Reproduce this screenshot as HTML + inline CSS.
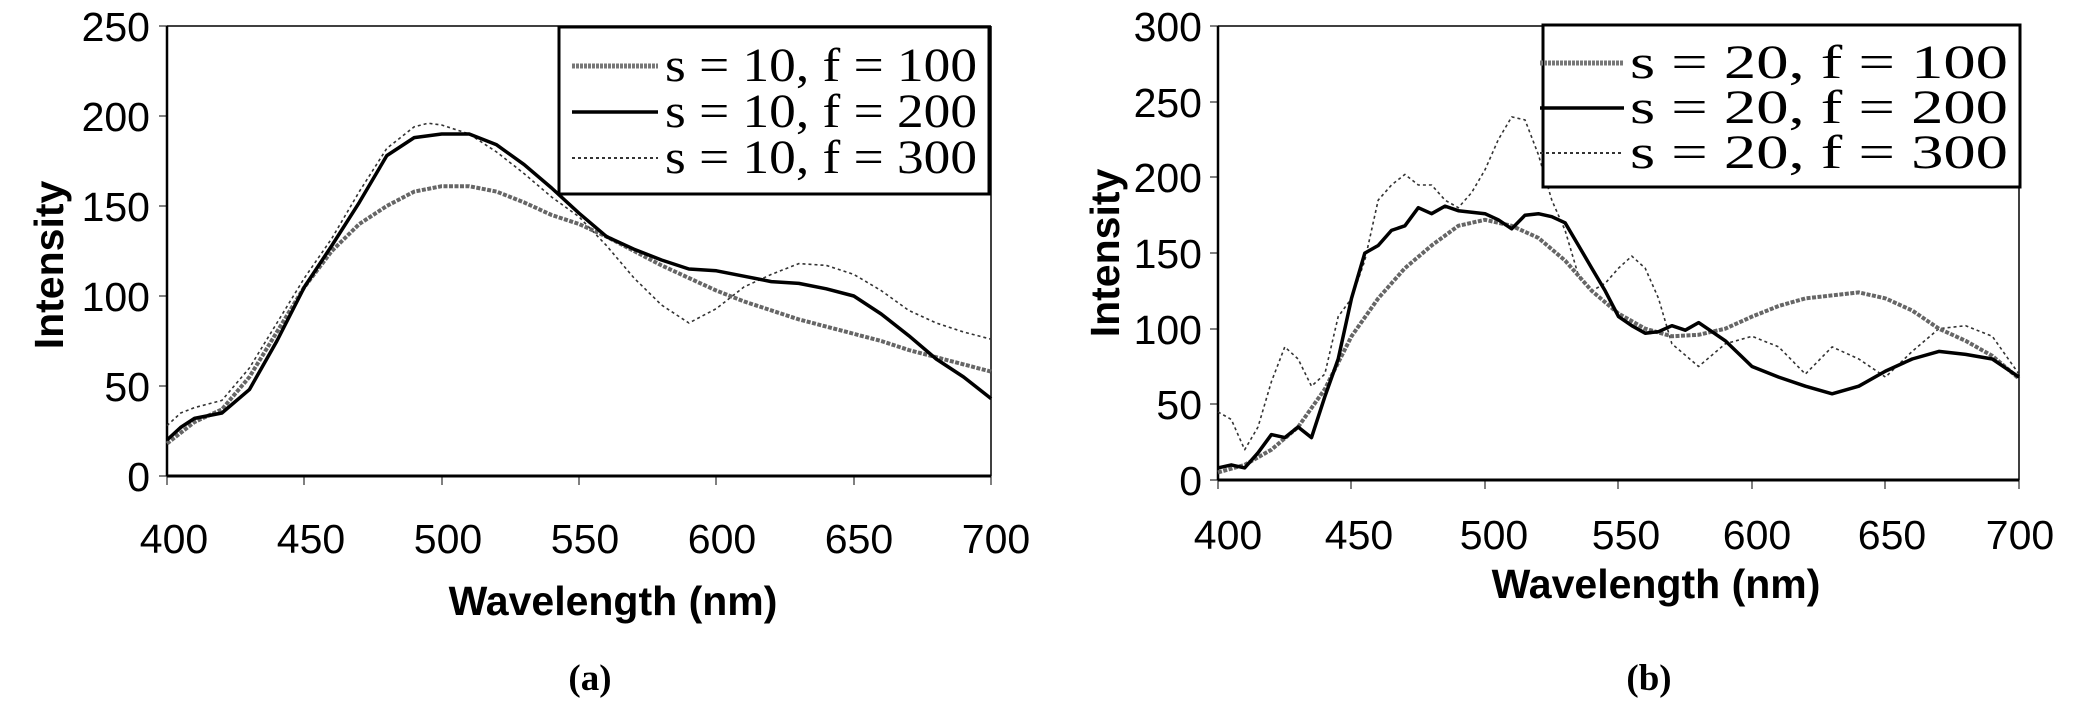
<!DOCTYPE html>
<html><head><meta charset="utf-8"><style>
html,body{margin:0;padding:0;background:#fff;}
svg{display:block;}
.t{font-family:"Liberation Sans",Arial,sans-serif;font-size:41px;fill:#000;}
.b{font-family:"Liberation Sans",Arial,sans-serif;font-size:41px;font-weight:bold;fill:#000;}
.s{font-family:"Liberation Serif","Times New Roman",serif;font-size:48px;fill:#000;}
.c{font-family:"Liberation Serif","Times New Roman",serif;font-size:37px;font-weight:bold;fill:#000;}
</style></head><body>
<svg id="svg" width="2084" height="726" viewBox="0 0 2084 726" xmlns="http://www.w3.org/2000/svg">
<rect width="2084" height="726" fill="#fff"/>
<g stroke="#000" fill="none">
<line x1="167" y1="26" x2="991" y2="26" stroke-width="1.5"/>
<line x1="991" y1="26" x2="991" y2="476" stroke-width="1.5"/>
<line x1="167" y1="26" x2="167" y2="476" stroke-width="2.5"/>
<line x1="167" y1="476" x2="991" y2="476" stroke-width="3"/>
<line x1="159" y1="26" x2="167" y2="26"/><line x1="159" y1="116" x2="167" y2="116"/><line x1="159" y1="206" x2="167" y2="206"/><line x1="159" y1="296" x2="167" y2="296"/><line x1="159" y1="386" x2="167" y2="386"/><line x1="159" y1="476" x2="167" y2="476"/>
<line x1="167" y1="476" x2="167" y2="485"/><line x1="304" y1="476" x2="304" y2="485"/><line x1="442" y1="476" x2="442" y2="485"/><line x1="579" y1="476" x2="579" y2="485"/><line x1="716" y1="476" x2="716" y2="485"/><line x1="854" y1="476" x2="854" y2="485"/><line x1="991" y1="476" x2="991" y2="485"/>
</g>
<g class="t" text-anchor="end">
<text x="150" y="41">250</text><text x="150" y="131">200</text><text x="150" y="221">150</text><text x="150" y="311">100</text><text x="150" y="401">50</text><text x="150" y="491">0</text>
</g>
<g class="t" text-anchor="middle">
<text x="174" y="553">400</text><text x="311" y="553">450</text><text x="448" y="553">500</text><text x="585" y="553">550</text><text x="722" y="553">600</text><text x="859" y="553">650</text><text x="996" y="553">700</text>
</g>
<text class="b" x="613" y="615" text-anchor="middle">Wavelength (nm)</text>
<text class="b" transform="translate(63,265) rotate(-90)" text-anchor="middle">Intensity</text>
<text class="c" x="590" y="690" text-anchor="middle">(a)</text>

<g stroke="#000" fill="none">
<line x1="1218" y1="26" x2="2019" y2="26" stroke-width="1.5"/>
<line x1="2019" y1="26" x2="2019" y2="480" stroke-width="1.5"/>
<line x1="1218" y1="26" x2="1218" y2="480" stroke-width="2.5"/>
<line x1="1218" y1="480" x2="2019" y2="480" stroke-width="3"/>
<line x1="1210" y1="26" x2="1218" y2="26"/><line x1="1210" y1="102" x2="1218" y2="102"/><line x1="1210" y1="177" x2="1218" y2="177"/><line x1="1210" y1="253" x2="1218" y2="253"/><line x1="1210" y1="329" x2="1218" y2="329"/><line x1="1210" y1="404" x2="1218" y2="404"/><line x1="1210" y1="480" x2="1218" y2="480"/>
<line x1="1218" y1="480" x2="1218" y2="489"/><line x1="1351" y1="480" x2="1351" y2="489"/><line x1="1485" y1="480" x2="1485" y2="489"/><line x1="1618" y1="480" x2="1618" y2="489"/><line x1="1752" y1="480" x2="1752" y2="489"/><line x1="1885" y1="480" x2="1885" y2="489"/><line x1="2019" y1="480" x2="2019" y2="489"/>
</g>
<g class="t" text-anchor="end">
<text x="1202" y="41">300</text><text x="1202" y="117">250</text><text x="1202" y="192">200</text><text x="1202" y="268">150</text><text x="1202" y="344">100</text><text x="1202" y="419">50</text><text x="1202" y="495">0</text>
</g>
<g class="t" text-anchor="middle">
<text x="1228" y="549">400</text><text x="1359" y="549">450</text><text x="1494" y="549">500</text><text x="1626" y="549">550</text><text x="1757" y="549">600</text><text x="1892" y="549">650</text><text x="2020" y="549">700</text>
</g>
<text class="b" x="1656" y="598" text-anchor="middle">Wavelength (nm)</text>
<text class="b" transform="translate(1119,253) rotate(-90)" text-anchor="middle">Intensity</text>
<text class="c" x="1649" y="690" text-anchor="middle">(b)</text>

<g id="series"></g>

<rect x="559" y="27" width="430" height="167" fill="#fff" stroke="#000" stroke-width="3"/>
<line x1="572" y1="66" x2="658" y2="66" stroke="#777" stroke-width="5" stroke-dasharray="3,1"/>
<line x1="572" y1="112" x2="658" y2="112" stroke="#000" stroke-width="3.5"/>
<line x1="572" y1="158" x2="658" y2="158" stroke="#333" stroke-width="2" stroke-dasharray="3,3"/>
<text class="s" x="665" y="81" textLength="312" lengthAdjust="spacingAndGlyphs">s = 10, f = 100</text>
<text class="s" x="665" y="127" textLength="312" lengthAdjust="spacingAndGlyphs">s = 10, f = 200</text>
<text class="s" x="665" y="173" textLength="312" lengthAdjust="spacingAndGlyphs">s = 10, f = 300</text>

<rect x="1543" y="25" width="477" height="162" fill="#fff" stroke="#000" stroke-width="3"/>
<line x1="1540" y1="63" x2="1624" y2="63" stroke="#777" stroke-width="5" stroke-dasharray="3,1"/>
<line x1="1540" y1="108" x2="1624" y2="108" stroke="#000" stroke-width="3.5"/>
<line x1="1540" y1="153" x2="1624" y2="153" stroke="#333" stroke-width="2" stroke-dasharray="3,3"/>
<text class="s" x="1630" y="78" textLength="378" lengthAdjust="spacingAndGlyphs">s = 20, f = 100</text>
<text class="s" x="1630" y="123" textLength="378" lengthAdjust="spacingAndGlyphs">s = 20, f = 200</text>
<text class="s" x="1630" y="168" textLength="378" lengthAdjust="spacingAndGlyphs">s = 20, f = 300</text>
</svg>
<script>
(function(){
var NS="http://www.w3.org/2000/svg",g=document.getElementById("series");
function add(pts,x0,xs,y0,ys,style){
 var d=[];for(var i=0;i<pts.length;i+=2){d.push((x0+xs*(pts[i]-400)).toFixed(1)+","+(y0-ys*pts[i+1]).toFixed(1));}
 var p=document.createElementNS(NS,"polyline");p.setAttribute("points",d.join(" "));p.setAttribute("fill","none");
 p.setAttribute("stroke-linejoin","round");
 for(var k in style)p.setAttribute(k,style[k]);g.appendChild(p);}
var A100=[400,18,410,30,420,37,430,55,440,80,450,105,460,125,470,140,480,150,490,158,500,161,510,161,520,158,530,152,540,145,550,140,560,133,570,125,580,117,590,110,600,103,610,97,620,92,630,87,640,83,650,79,660,75,670,70,680,66,690,62,700,58];
var A200=[400,20,405,27,410,32,420,35,430,48,440,75,450,105,460,128,470,152,480,178,490,188,500,190,510,190,520,184,530,173,540,160,550,146,560,133,570,126,580,120,590,115,600,114,610,111,620,108,630,107,640,104,650,100,660,90,670,78,680,65,690,55,700,43];
var A300=[400,28,405,35,410,38,420,42,430,60,440,85,450,110,460,132,470,158,480,182,490,194,495,196,500,195,510,190,520,180,530,168,540,155,550,144,560,128,570,110,580,95,590,85,600,93,610,105,620,112,630,118,640,117,650,112,660,103,670,92,680,85,690,80,700,76];
var B100=[400,5,410,10,420,20,430,35,440,60,450,95,460,120,470,140,480,155,490,168,500,172,510,168,520,160,530,145,540,125,550,110,560,100,570,95,580,96,590,100,600,108,610,115,620,120,630,122,640,124,650,120,660,112,670,100,680,92,690,82,700,67];
var B200=[400,8,405,10,410,8,415,18,420,30,425,28,430,35,435,28,440,55,445,80,450,120,455,150,460,155,465,165,470,168,475,180,480,176,485,181,490,178,500,176,505,172,510,166,515,175,520,176,525,174,530,170,535,155,540,140,545,125,550,108,555,102,560,97,565,98,570,102,575,99,580,104,585,98,590,92,600,75,610,68,620,62,630,57,640,62,650,72,660,80,670,85,680,83,690,80,700,68];
var B300=[400,45,405,40,410,20,415,35,420,65,425,88,430,80,435,62,440,70,445,108,450,120,455,145,460,185,465,195,470,202,475,195,480,195,485,185,490,180,495,190,500,205,505,225,510,240,515,238,520,215,525,185,530,165,535,135,540,125,545,130,550,140,555,148,560,140,565,120,570,90,580,75,590,90,600,95,610,88,620,70,630,88,640,80,650,68,660,85,670,100,680,102,690,95,700,70];
var s100={"stroke":"#666","stroke-width":"4","stroke-dasharray":"4,1.5"},
    s200={"stroke":"#000","stroke-width":"3.5"},
    s300={"stroke":"#333","stroke-width":"1.6","stroke-dasharray":"3,3"};
add(A300,167,2.747,476,1.8,s300);add(A100,167,2.747,476,1.8,s100);add(A200,167,2.747,476,1.8,s200);
add(B300,1218,2.67,480,1.513,s300);add(B100,1218,2.67,480,1.513,s100);add(B200,1218,2.67,480,1.513,s200);
})();
</script>
</body></html>
